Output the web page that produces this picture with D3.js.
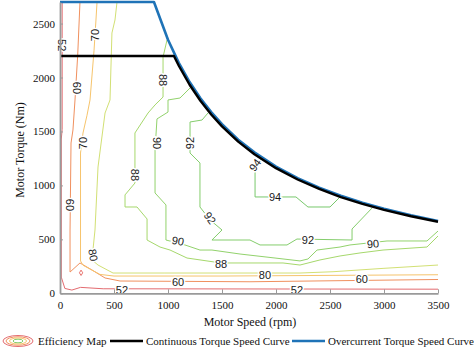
<!DOCTYPE html>
<html>
<head>
<meta charset="utf-8">
<script src="https://cdn.jsdelivr.net/npm/d3@7"></script>
<style>
  body { margin: 0; background: #fff; }
  svg { display: block; }
</style>
</head>
<body>
<script>
// tick values
let speedTicks = [0, 500, 1000, 1500, 2000, 2500, 3000, 3500];
let torqueTicks = [0, 500, 1000, 1500, 2000, 2500];

// torque speed curves [rpm, Nm]
let overcurrentCurve = [[0, 2700], [870, 2700], [1000, 2350], [1100, 2136], [1200, 1958], [1300, 1808],
    [1400, 1679], [1500, 1567], [1650, 1424], [1800, 1306], [2000, 1175], [2200, 1068], [2400, 979],
    [2600, 904], [2800, 839], [3000, 783], [3250, 723], [3500, 671]];
let continuousCurve = [[0, 2200], [1055, 2200], [1100, 2109], [1200, 1933], [1300, 1785], [1400, 1657],
    [1500, 1547], [1650, 1406], [1800, 1289], [2000, 1160], [2200, 1055], [2400, 967], [2600, 892],
    [2800, 829], [3000, 773], [3250, 714], [3500, 663]];

// efficiency contour lines [rpm, Nm]
let eff52 = [[20, 2700], [20, 1520], [12, 1430], [12, 150], [45, 45], [110, 30], [190, 55], [400, 42], [3500, 38]];
let eff60 = [[185, 2700], [164, 2209], [139, 1792], [120, 1514], [102, 1393], [93, 587], [93, 197], [185, 281],
    [296, 216], [417, 142], [556, 114], [1759, 107], [3500, 128]];
let eff70 = [[343, 2700], [333, 2533], [315, 2250], [278, 1792], [250, 1650], [213, 1486], [190, 1300], [190, 300],
    [213, 260], [370, 175], [500, 160], [1500, 160], [3500, 172]];
let eff80 = [[528, 2700], [509, 2533], [481, 2413], [463, 1792], [417, 1671], [352, 1171], [324, 587], [296, 309],
    [352, 262], [491, 188], [972, 188], [2222, 188], [2528, 200], [2991, 231], [3500, 262]];
let eff88 = [[991, 2348], [954, 2190], [954, 1819], [880, 1746], [815, 1671], [694, 1486], [694, 1022], [602, 912],
    [602, 800], [713, 800], [806, 689], [806, 494], [926, 429], [1019, 401], [1176, 327], [1491, 281], [2065, 281],
    [2222, 262], [2407, 309], [2593, 346], [2778, 374], [2991, 401], [3398, 429], [3500, 531]];
let eff90 = [[1204, 1903], [1111, 1810], [1000, 1792], [1000, 1680], [898, 1616], [880, 1328], [880, 930], [981, 819],
    [981, 494], [1157, 448], [1296, 401], [1407, 401], [1667, 364], [1991, 327], [2222, 300], [2296, 318], [2380, 401],
    [2593, 429], [2685, 448], [3028, 485], [3398, 485], [3500, 577]];
let eff92 = [[1370, 1671], [1315, 1606], [1204, 1588], [1204, 1300], [1296, 1208], [1296, 800], [1389, 680], [1500, 587],
    [1407, 494], [1759, 494], [1852, 448], [2102, 448], [2194, 503], [2704, 494], [2704, 596], [2889, 790]];
let eff94 = [[1870, 1254], [1806, 1161], [1806, 893], [2185, 893], [2296, 800], [2500, 800], [2593, 893]];
let eff60Island = [[180, 190], [195, 215], [210, 190], [195, 165], [180, 190]];

let contours = [
    { level: 52, pts: eff52, color: '#e36b70' },
    { level: 60, pts: eff60, color: '#f0905e' },
    { level: 60, pts: eff60Island, color: '#e8736e' },
    { level: 70, pts: eff70, color: '#f6c46c' },
    { level: 80, pts: eff80, color: '#d2e074' },
    { level: 88, pts: eff88, color: '#a6d86c' },
    { level: 90, pts: eff90, color: '#92d26c' },
    { level: 92, pts: eff92, color: '#84cd6c' },
    { level: 94, pts: eff94, color: '#78c86c' }
];

// contour labels [text, rpm, Nm, angle]
let contourLabels = [
    ['52', 20, 2300, 90], ['70', 324, 2394, -90], ['60', 157, 1903, 90], ['70', 213, 1393, -90],
    ['88', 954, 1976, 90], ['90', 898, 1393, 90], ['92', 1204, 1393, -90], ['88', 694, 1097, 90],
    ['60', 93, 819, 90], ['80', 306, 355, 80], ['92', 1389, 698, 55], ['94', 1806, 1189, -55],
    ['94', 1991, 893, 0], ['90', 1093, 485, 10], ['88', 1491, 272, 0], ['92', 2296, 494, 0],
    ['90', 2898, 457, -5], ['80', 1898, 170, 0], ['60', 1093, 107, 0], ['60', 2794, 133, 0],
    ['52', 574, 31, 0], ['52', 2194, 31, 0]
];

let legendItems = ['Efficiency Map', 'Continuous Torque Speed Curve', 'Overcurrent Torque Speed Curve'];

let width = 474, height = 352;
let svg = d3.select('body').append('svg')
    .attr('width', width)
    .attr('height', height);

let xScale = d3.scaleLinear().domain([0, 3500]).range([60, 438]);
let yScale = d3.scaleLinear().domain([0, 2700]).range([293.3, 2]);

let line = d3.line()
    .x(d => xScale(d[0]))
    .y(d => yScale(d[1]));

// contours
svg.append('g')
    .selectAll('path')
    .data(contours)
    .enter()
    .append('path')
    .attr('d', d => line(d.pts))
    .attr('fill', 'none')
    .attr('stroke', d => d.color)
    .attr('stroke-width', 1);

// labels with white gap behind
svg.append('g')
    .selectAll('text')
    .data(contourLabels)
    .enter()
    .append('text')
    .attr('transform', d => `translate(${xScale(d[1])},${yScale(d[2])}) rotate(${d[3]})`)
    .attr('text-anchor', 'middle')
    .attr('dy', '0.35em')
    .attr('font-family', 'Liberation Sans, Arial, sans-serif')
    .attr('font-size', 11)
    .attr('fill', '#1a1a1a')
    .attr('stroke', '#fff')
    .attr('stroke-width', 3)
    .attr('paint-order', 'stroke')
    .text(d => d[0]);

// torque speed curves
svg.append('path')
    .attr('d', line(overcurrentCurve))
    .attr('fill', 'none')
    .attr('stroke', '#1f73b7')
    .attr('stroke-width', 2.6)
    .attr('stroke-linejoin', 'round');
svg.append('path')
    .attr('d', line(continuousCurve))
    .attr('fill', 'none')
    .attr('stroke', '#000')
    .attr('stroke-width', 2.4)
    .attr('stroke-linejoin', 'round');

// axes
let xAxis = d3.axisBottom(xScale).tickValues(speedTicks).tickFormat(d3.format('d'))
    .tickSizeInner(-4).tickSizeOuter(0).tickPadding(8);
let yAxis = d3.axisLeft(yScale).tickValues(torqueTicks).tickFormat(d3.format('d'))
    .tickSizeInner(-3).tickSizeOuter(0).tickPadding(5);

let xAxisGroup = svg.append('g')
    .attr('transform', `translate(0, ${yScale(0)})`)
    .call(xAxis);
let yAxisGroup = svg.append('g')
    .attr('transform', `translate(${xScale(0)}, 0)`)
    .call(yAxis);

[xAxisGroup, yAxisGroup].forEach(g => {
    g.select('.domain').attr('stroke', '#9a9a9a').attr('stroke-width', 1.8);
    g.selectAll('.tick line').attr('stroke', '#9a9a9a');
    g.selectAll('.tick text')
        .attr('font-family', 'Liberation Serif, Times New Roman, serif')
        .attr('font-size', 11)
        .attr('fill', '#111');
});

svg.append('text')
    .attr('x', 250)
    .attr('y', 326)
    .attr('text-anchor', 'middle')
    .attr('font-family', 'Liberation Serif, Times New Roman, serif')
    .attr('font-size', 12)
    .attr('fill', '#111')
    .text('Motor Speed (rpm)');

svg.append('text')
    .attr('transform', 'translate(24, 150) rotate(-90)')
    .attr('text-anchor', 'middle')
    .attr('font-family', 'Liberation Serif, Times New Roman, serif')
    .attr('font-size', 12)
    .attr('fill', '#111')
    .text('Motor Torque (Nm)');

// legend
let legend = svg.append('g').attr('transform', 'translate(0, 341)');
let rings = [[15, 5.5, '#e36b70'], [12, 4.2, '#f0905e'], [8.5, 3, '#f6c46c'], [5, 1.8, '#84cd6c']];
legend.selectAll('ellipse')
    .data(rings)
    .enter()
    .append('ellipse')
    .attr('cx', 18)
    .attr('cy', 0)
    .attr('rx', d => d[0])
    .attr('ry', d => d[1])
    .attr('fill', 'none')
    .attr('stroke', d => d[2])
    .attr('stroke-width', 1);

legend.append('line').attr('x1', 110).attr('x2', 143).attr('stroke', '#000').attr('stroke-width', 2.4);
legend.append('line').attr('x1', 292).attr('x2', 325).attr('stroke', '#1f73b7').attr('stroke-width', 2.4);

let legendX = [38, 146, 328];
legend.selectAll('text')
    .data(legendItems)
    .enter()
    .append('text')
    .attr('x', (d, i) => legendX[i])
    .attr('dy', '0.35em')
    .attr('font-family', 'Liberation Serif, Times New Roman, serif')
    .attr('font-size', 11)
    .attr('fill', '#111')
    .text(d => d);
</script>
</body>
</html>
